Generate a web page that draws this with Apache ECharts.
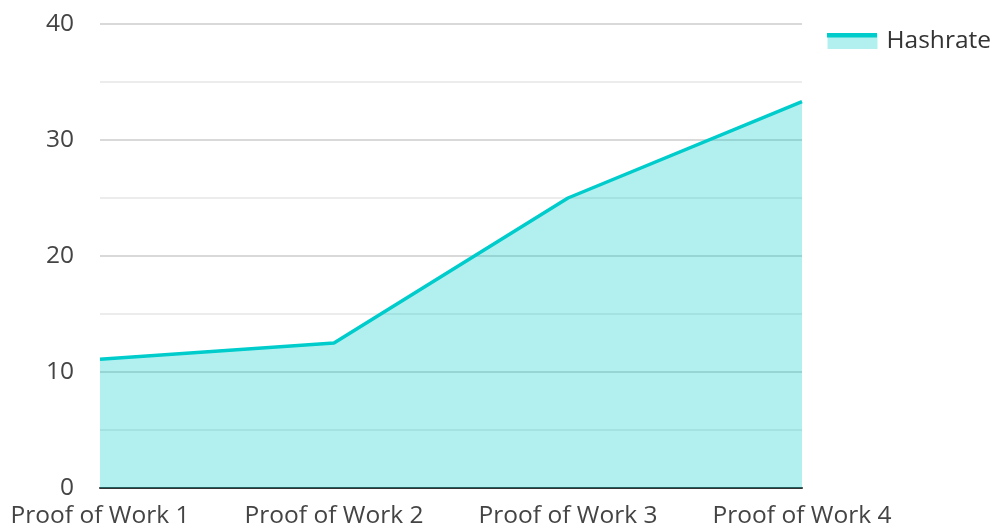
<!DOCTYPE html>
<html><head><meta charset="utf-8">
<script src="https://cdn.jsdelivr.net/npm/echarts@6/dist/echarts.min.js"></script>
<style>html,body{margin:0;padding:0;background:#fff}#c{width:994px;height:529px}</style>
</head><body><div id="c"></div>
<script>
const categories = ['Proof of Work 1', 'Proof of Work 2', 'Proof of Work 3', 'Proof of Work 4'];
const hashrate = [11.1, 12.5, 25.0, 33.3];
const seriesName = 'Hashrate';

const chart = echarts.init(document.getElementById('c'), null, {renderer: 'canvas'});
const font = '"Open Sans", sans-serif';
const lineColor = '#00cccc';
const fillColor = 'rgba(0,204,204,0.3)';
chart.setOption({
  animation: false,
  textStyle: {fontFamily: font},
  legend: [{
    data: [seriesName], right: -2, top: 24, itemWidth: 50, itemHeight: 15, icon: 'rect',
    itemStyle: {color: fillColor, borderWidth: 0},
    textStyle: {fontFamily: font, fontSize: 24.5, color: '#333', padding: [0, 0, 8, 4]}
  }, {
    data: [seriesName], left: 827, top: 33, itemWidth: 50, itemHeight: 4.5, icon: 'rect',
    itemStyle: {color: lineColor, borderWidth: 0},
    formatter: function () { return ''; },
    textStyle: {fontSize: 1, color: 'rgba(0,0,0,0)'}, padding: 0
  }],
  grid: {left: 100, right: 192, top: 24, bottom: 39, containLabel: false},
  xAxis: {
    type: 'category', data: categories, boundaryGap: false,
    axisLine: {lineStyle: {color: '#333', width: 2}},
    axisTick: {show: false},
    axisLabel: {fontFamily: font, fontSize: 24.5, color: '#444', margin: 16, interval: 0},
    splitLine: {show: false}
  },
  yAxis: {
    type: 'value', min: 0, max: 40, interval: 10,
    axisLine: {show: false}, axisTick: {show: false},
    axisLabel: {fontFamily: font, fontSize: 24.5, color: '#444', margin: 26},
    splitLine: {lineStyle: {color: '#cccccc', width: 1.5}},
    minorTick: {show: false, splitNumber: 2},
    minorSplitLine: {show: true, lineStyle: {color: '#e6e6e6', width: 1.5}}
  },
  series: [{
    name: seriesName, type: 'line', data: hashrate, symbol: 'none',
    lineStyle: {color: lineColor, width: 3.5},
    itemStyle: {color: lineColor},
    areaStyle: {color: fillColor, opacity: 1}
  }]
});
</script></body></html>
